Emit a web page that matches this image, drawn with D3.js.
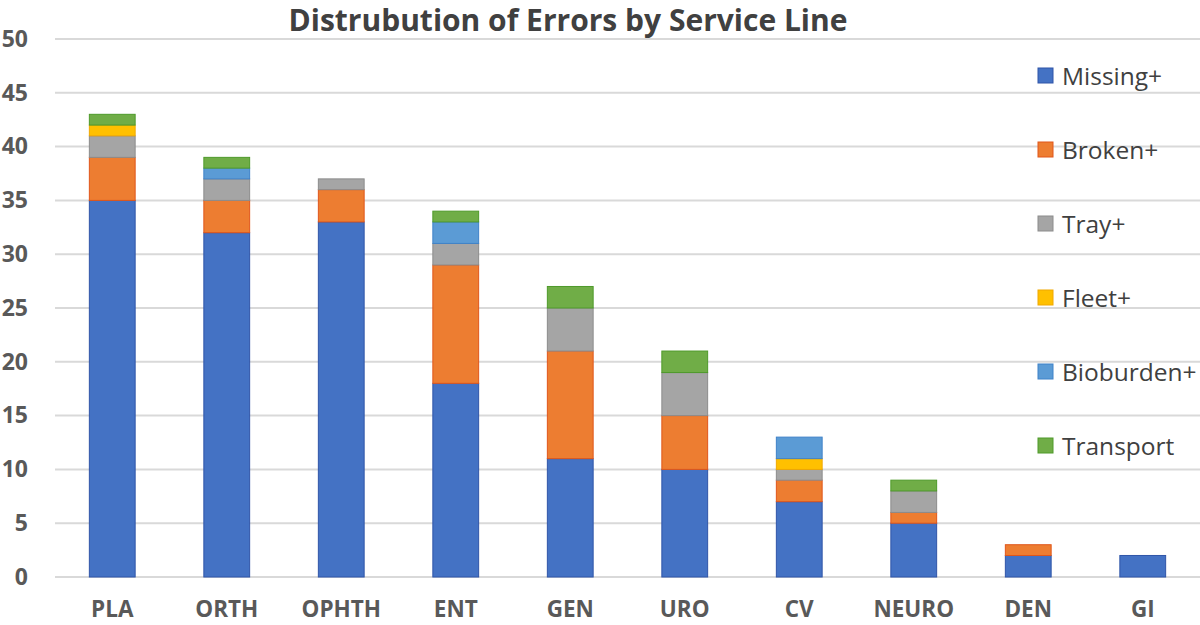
<!DOCTYPE html>
<html>
<head>
<meta charset="utf-8">
<script src="https://cdn.jsdelivr.net/npm/d3@7"></script>
<style>
  body { margin: 0; background: #fff; }
  text { font-family: "Open Sans", "Noto Sans", sans-serif; }
</style>
</head>
<body>
<div id="chart"></div>
<script>
// service lines and error counts per type
const categories = ['PLA', 'ORTH', 'OPHTH', 'ENT', 'GEN', 'URO', 'CV', 'NEURO', 'DEN', 'GI'];
const seriesNames = ['Missing+', 'Broken+', 'Tray+', 'Fleet+', 'Bioburden+', 'Transport'];
const missing   = [35, 32, 33, 18, 11, 10, 7, 5, 2, 2];
const broken    = [4, 3, 3, 11, 10, 5, 2, 1, 1, 0];
const tray      = [2, 2, 1, 2, 4, 4, 1, 2, 0, 0];
const fleet     = [1, 0, 0, 0, 0, 0, 1, 0, 0, 0];
const bioburden = [0, 1, 0, 2, 0, 0, 2, 0, 0, 0];
const transport = [1, 1, 0, 1, 2, 2, 0, 1, 0, 0];
const yTicks = [0, 5, 10, 15, 20, 25, 30, 35, 40, 45, 50];

const colors = ['#4472C4', '#ED7D31', '#A5A5A5', '#FFC000', '#5B9BD5', '#70AD47'];
const strokes = ['#2F55A8', '#E0561A', '#8C8C8C', '#F0A800', '#3F82C8', '#4E9A2A'];

const width = 1200;
const height = 625;
const margin = {top: 39, right: 0, bottom: 48, left: 55};

const svg = d3.select('#chart').append('svg')
  .attr('width', width)
  .attr('height', height);

const table = categories.map((c, i) => ({
  cat: c,
  'Missing+': missing[i],
  'Broken+': broken[i],
  'Tray+': tray[i],
  'Fleet+': fleet[i],
  'Bioburden+': bioburden[i],
  'Transport': transport[i]
}));
const stacked = d3.stack().keys(seriesNames)(table);

const xScale = d3.scaleBand()
  .domain(categories)
  .range([margin.left, width - margin.right])
  .paddingInner(0.6)
  .paddingOuter(0.3);
const yScale = d3.scaleLinear()
  .domain([0, 50])
  .range([height - margin.bottom, margin.top]);

// gridlines
svg.append('g')
  .selectAll('line')
  .data(yTicks)
  .join('line')
  .attr('x1', margin.left)
  .attr('x2', width - margin.right)
  .attr('y1', d => yScale(d))
  .attr('y2', d => yScale(d))
  .attr('stroke', '#d9d9d9')
  .attr('stroke-width', 2);

// y tick labels
const yaxis = d3.axisLeft(yScale).tickValues(yTicks).tickSize(0).tickPadding(0);
svg.append('g')
  .attr('transform', 'translate(28,0)')
  .call(yaxis)
  .call(g => g.select('.domain').remove())
  .selectAll('text')
  .attr('font-size', 23)
  .attr('font-weight', 'bold')
  .attr('fill', '#595959')
  .style('font-family', '"Open Sans", sans-serif');

// x tick labels
const xaxis = d3.axisBottom(xScale).tickSize(0).tickPadding(24);
svg.append('g')
  .attr('transform', 'translate(0,' + (height - margin.bottom) + ')')
  .call(xaxis)
  .call(g => g.select('.domain').remove())
  .selectAll('text')
  .attr('font-size', 22.5)
  .attr('font-weight', 'bold')
  .attr('fill', '#595959')
  .style('font-family', '"Open Sans", sans-serif');

// bars
svg.append('g')
  .selectAll('g')
  .data(stacked)
  .join('g')
  .attr('fill', (d, i) => colors[i])
  .attr('stroke', (d, i) => strokes[i])
  .selectAll('rect')
  .data(d => d.filter(s => s[1] > s[0]))
  .join('rect')
  .attr('x', d => xScale(d.data.cat))
  .attr('width', xScale.bandwidth())
  .attr('y', d => yScale(d[1]))
  .attr('height', d => yScale(d[0]) - yScale(d[1]))
  .attr('stroke-width', 1);

// title
svg.append('text')
  .attr('x', 568)
  .attr('y', 31)
  .attr('text-anchor', 'middle')
  .attr('font-size', 30)
  .attr('font-weight', 'bold')
  .attr('fill', '#404040')
  .text('Distrubution of Errors by Service Line');

// legend
const legend = svg.append('g')
  .selectAll('g')
  .data(seriesNames)
  .join('g')
  .attr('transform', (d, i) => 'translate(1038,' + (76 + i * 74) + ')');
legend.append('rect')
  .attr('x', 0)
  .attr('y', -8)
  .attr('width', 15)
  .attr('height', 15)
  .attr('fill', (d, i) => colors[i])
  .attr('stroke', (d, i) => strokes[i]);
legend.append('text')
  .attr('x', 24)
  .attr('y', 0)
  .attr('dy', '0.35em')
  .attr('font-size', 24.5)
  .attr('fill', '#404040')
  .text(d => d);
</script>
</body>
</html>
